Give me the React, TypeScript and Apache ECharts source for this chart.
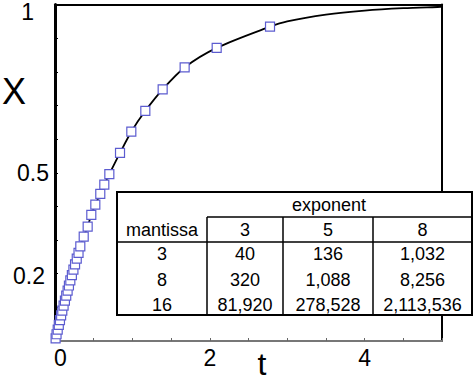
import React, { useEffect, useRef } from "react";
import * as echarts from "echarts";

// marker points (t, X)
const markerT = [0.008, 0.02, 0.035, 0.049, 0.064, 0.079, 0.094, 0.111, 0.128, 0.145, 0.163, 0.18, 0.198, 0.218, 0.238, 0.259, 0.281, 0.304, 0.327, 0.371, 0.422, 0.469, 0.521, 0.585, 0.637, 0.702, 0.84, 0.986, 1.167, 1.391, 1.675, 2.089, 2.778];
const markerX = [0.008, 0.02, 0.034, 0.048, 0.062, 0.076, 0.09, 0.105, 0.12, 0.135, 0.15, 0.165, 0.18, 0.196, 0.212, 0.228, 0.245, 0.262, 0.281, 0.31, 0.34, 0.375, 0.405, 0.437, 0.465, 0.496, 0.559, 0.622, 0.684, 0.748, 0.813, 0.871, 0.934];
// curve continuation after last marker
const tailT = [3.0, 3.5, 4.0, 4.5, 5.0];
const tailX = [0.95, 0.97, 0.982, 0.989, 0.993];

const xTickLabels = [0, 2, 4];
const yTickLabels = [0.2, 0.5, 1];

// table
const exponents = ["3", "5", "8"];
const mantissas = ["3", "8", "16"];
const tableValues = [
  ["40", "136", "1,032"],
  ["320", "1,088", "8,256"],
  ["81,920", "278,528", "2,113,536"],
];

const FONT = "Liberation Sans, Arial, Helvetica, sans-serif";

export default function App() {
  const ref = useRef<HTMLDivElement>(null);
  useEffect(() => {
    if (!ref.current) return;
    const chart = echarts.init(ref.current, null, { renderer: "svg" });

    const markers = markerT.map((t, i) => [t, markerX[i]]);
    const lineData = [[0, 0], ...markers, ...tailT.map((t, i) => [t, tailX[i]])];

    // table layout
    const L = 117, R = 472, T = 192, B = 315;
    const colX = [117, 207, 283, 373, 472];
    const rowY = [217, 242];
    const rowCenters = [254, 280, 305];
    const tz = 100;
    const textStyle = (x: number, y: number, s: string) => ({
      type: "text",
      z: tz + 2,
      x,
      y,
      style: { text: s, fill: "#000", font: `18px ${FONT}`, align: "center", verticalAlign: "middle" },
    });
    const line = (x1: number, y1: number, x2: number, y2: number, w = 1.5) => ({
      type: "line",
      z: tz + 1,
      shape: { x1, y1, x2, y2 },
      style: { stroke: "#000", lineWidth: w },
    });
    const cc = (i: number) => (colX[i] + colX[i + 1]) / 2;

    const graphics: any[] = [
      { type: "rect", z: tz, shape: { x: L, y: T, width: R - L, height: B - T }, style: { fill: "#fff", stroke: "#000", lineWidth: 2 } },
      line(colX[1], rowY[0], R, rowY[0]),
      line(L, rowY[1], R, rowY[1]),
      line(colX[1], rowY[0], colX[1], B),
      line(colX[2], rowY[0], colX[2], B),
      line(colX[3], rowY[0], colX[3], B),
      textStyle(329, 205, "exponent"),
      textStyle(cc(0), 230, "mantissa"),
      ...exponents.map((e, i) => textStyle(cc(i + 1), 230, e)),
    ];
    mantissas.forEach((m, r) => {
      graphics.push(textStyle(cc(0), rowCenters[r], m));
      tableValues[r].forEach((v, c) => graphics.push(textStyle(cc(c + 1), rowCenters[r], v)));
    });
    graphics.push({
      type: "text",
      x: 2,
      y: 91,
      style: { text: "X", fill: "#000", font: `36px ${FONT}`, verticalAlign: "middle" },
    });
    graphics.push({
      type: "text",
      x: 262,
      y: 364,
      style: { text: "t", fill: "#000", font: `32px ${FONT}`, align: "center", verticalAlign: "middle" },
    });

    const near = (v: number, list: number[]) => list.find((a) => Math.abs(a - v) < 1e-6);

    chart.setOption({
      animation: false,
      backgroundColor: "#fff",
      grid: { left: 55, right: 32, top: 4, bottom: 42 },
      xAxis: [
        {
          type: "value",
          min: 0,
          max: 5,
          interval: 0.5,
          position: "bottom",
          axisLine: { show: true, onZero: false, lineStyle: { color: "#777", width: 2 } },
          axisTick: { show: true, inside: true, length: 3, lineStyle: { color: "#666", width: 1 } },
          splitLine: { show: false },
          axisLabel: {
            margin: 5,
            color: "#000",
            fontSize: 23,
            fontFamily: FONT,
            showMinLabel: true,
            showMaxLabel: true,
            formatter: (v: number) => {
              const m = near(v, xTickLabels);
              if (m === undefined) return "";
              if (m === 0) return "{zero|0}";
              return String(m);
            },
            rich: { zero: { fontSize: 23, fontFamily: FONT, color: "#000", padding: [0, 0, 0, 11] } },
          },
        },
        {
          type: "value",
          min: 0,
          max: 5,
          position: "top",
          axisLine: { show: true, onZero: false, lineStyle: { color: "#000", width: 2 } },
          axisTick: { show: false },
          axisLabel: { show: false },
          splitLine: { show: false },
        },
      ],
      yAxis: [
        {
          type: "value",
          min: 0,
          max: 1,
          interval: 0.1,
          position: "left",
          axisLine: { show: true, onZero: false, lineStyle: { color: "#000", width: 3 } },
          axisTick: { show: true, inside: true, length: 3, lineStyle: { color: "#000", width: 1 } },
          splitLine: { show: false },
          axisLabel: {
            margin: 6,
            color: "#000",
            fontSize: 23,
            fontFamily: FONT,
            showMinLabel: true,
            showMaxLabel: true,
            formatter: (v: number) => {
              const m = near(v, yTickLabels);
              if (m === undefined) return "";
              if (m === 1) return "{one|1}";
              if (m === 0.2) return "{two|0.2}";
              return String(m);
            },
            rich: {
              one: { fontSize: 23, fontFamily: FONT, color: "#000", padding: [14, 15, 0, 0] },
              two: { fontSize: 23, fontFamily: FONT, color: "#000", padding: [4, 4, 0, 0] },
            },
          },
        },
        {
          type: "value",
          min: 0,
          max: 1,
          position: "right",
          axisLine: { show: true, onZero: false, lineStyle: { color: "#000", width: 2 } },
          axisTick: { show: false },
          axisLabel: { show: false },
          splitLine: { show: false },
        },
      ],
      series: [
        {
          type: "line",
          data: lineData,
          showSymbol: false,
          symbol: "none",
          smooth: 0.3,
          lineStyle: { color: "#000", width: 1.8 },
          z: 2,
        },
        {
          type: "scatter",
          data: markers,
          symbol: "rect",
          symbolSize: 9,
          itemStyle: { color: "#fff", borderColor: "#5c5cd0", borderWidth: 1.2, opacity: 1 },
          z: 3,
        },
      ],
      graphic: graphics,
    });
    return () => chart.dispose();
  }, []);
  return <div ref={ref} style={{ position: "fixed", left: 0, top: 0, width: 474, height: 383 }} />;
}
